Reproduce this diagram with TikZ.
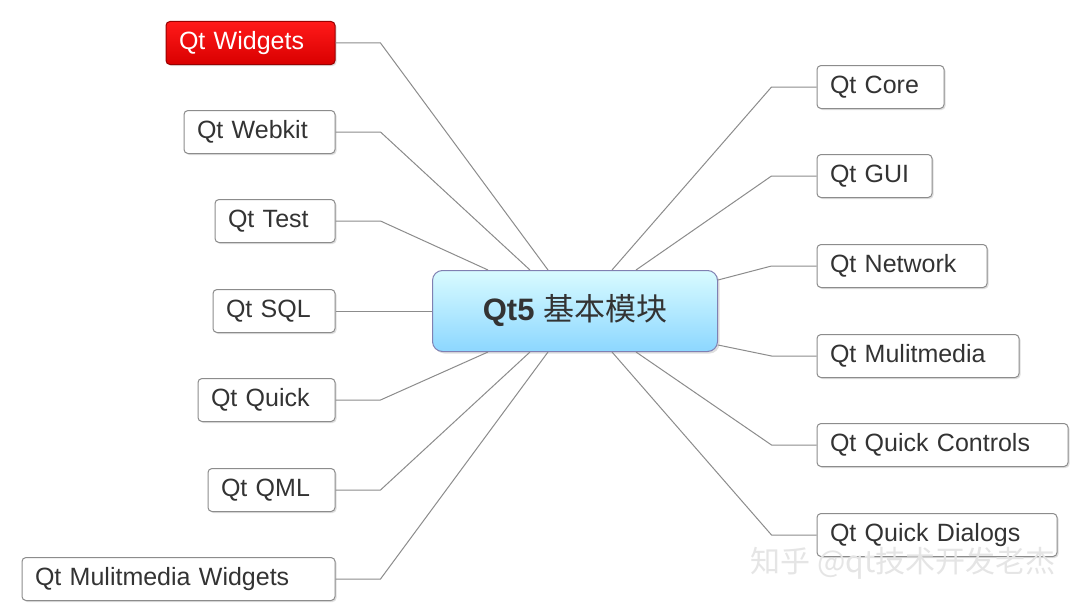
\documentclass[tikz,border=0pt]{standalone}
\usepackage{fontspec}
\setmainfont{Liberation Sans}
\newfontfamily\cjk{Noto Sans CJK SC}
\usetikzlibrary{shadows}
\definecolor{txt}{HTML}{333333}
\begin{document}
\begin{tikzpicture}[x=1pt,y=-1pt,
  leaf/.style={draw=black!45,line width=1pt,rounded corners=4pt,fill=white,minimum height=43pt,text width=#1-26pt,align=left,inner xsep=13pt,inner ysep=0pt,text=txt,font=\fontsize{25}{28}\selectfont,drop shadow={shadow xshift=1.5pt,shadow yshift=-1.5pt,opacity=0.25}},
  link/.style={draw=black!45,line width=1pt}]
\useasboundingbox (0,0) rectangle (1083,610);
\fill[white] (0,0) rectangle (1083,610);
% center
\node[draw=blue!40!black!50,line width=1pt,rounded corners=10pt,top color=blue!10!cyan!15,bottom color=blue!35!cyan!45,minimum width=285pt,minimum height=81pt,text=txt,font=\fontsize{31}{34}\selectfont,drop shadow={shadow xshift=2pt,shadow yshift=-2pt,opacity=0.25}] (c) at (575,311) {\textbf{Qt5} {\cjk 基本模块}};
% left
\node[leaf=169pt,top color=red!90,bottom color=red!85!black,draw=red!60!black,text=white] (w) at (250.5,43) {Qt Widgets};
\node[leaf=151pt] (wk) at (259.5,132) {Qt Webkit};
\node[leaf=120pt] (t) at (275,221) {Qt Test};
\node[leaf=122pt] (s) at (274,311) {Qt SQL};
\node[leaf=137pt] (q) at (266.5,400) {Qt Quick};
\node[leaf=127pt] (ql) at (271.5,490) {Qt QML};
\node[leaf=313pt] (mw) at (178.5,579) {Qt Mulitmedia Widgets};
% right
\node[leaf=127pt] (co) at (880.5,87) {Qt Core};
\node[leaf=115pt] (g) at (874.5,176) {Qt GUI};
\node[leaf=170pt] (n) at (902,266) {Qt Network};
\node[leaf=202pt] (m) at (918,356) {Qt Mulitmedia};
\node[leaf=251pt] (qc) at (942.5,445) {Qt Quick Controls};
\node[leaf=240pt] (qd) at (937,535) {Qt Quick Dialogs};
% connectors
\draw[link] (w.east) -- ++(45,0) -- (548,270);
\draw[link] (wk.east) -- ++(45,0) -- (530,270);
\draw[link] (t.east) -- ++(45,0) -- (488,270);
\draw[link] (s.east) -- (c.west);
\draw[link] (q.east) -- ++(45,0) -- (488,352);
\draw[link] (ql.east) -- ++(45,0) -- (530,352);
\draw[link] (mw.east) -- ++(45,0) -- (548,352);
\draw[link] (co.west) -- ++(-45,0) -- (612,270);
\draw[link] (g.west) -- ++(-45,0) -- (636,270);
\draw[link] (n.west) -- ++(-45,0) -- (718,280);
\draw[link] (m.west) -- ++(-45,0) -- (718,345);
\draw[link] (qc.west) -- ++(-45,0) -- (636,352);
\draw[link] (qd.west) -- ++(-45,0) -- (612,352);
\node[text=black!10,font=\fontsize{30}{33}\selectfont\cjk,anchor=east,inner sep=0pt] (wm) at (1056,563) {知乎 @qt技术开发老杰};
\end{tikzpicture}
\end{document}
